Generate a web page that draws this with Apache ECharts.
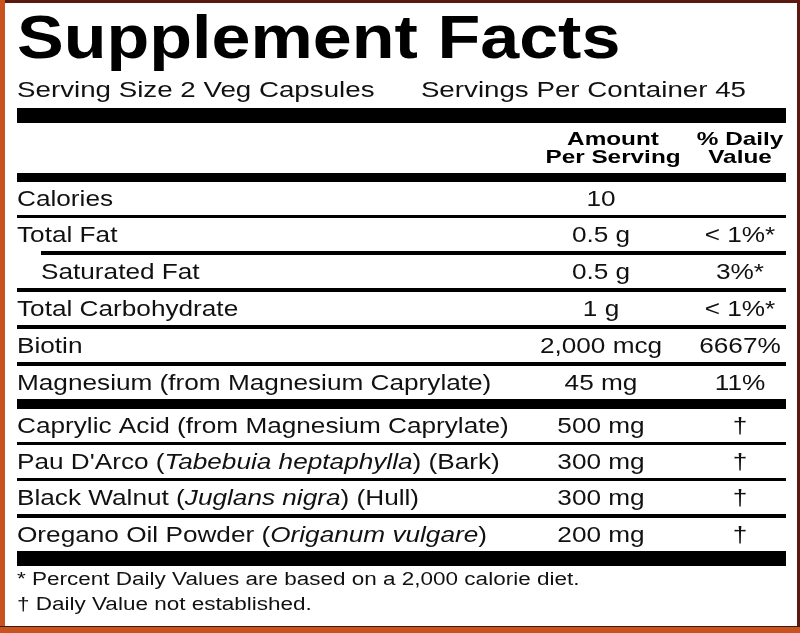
<!DOCTYPE html>
<html><head><meta charset="utf-8">
<script src="https://cdn.jsdelivr.net/npm/echarts@6/dist/echarts.min.js"></script>
<style>html,body{margin:0;padding:0;background:#fff}#c{width:800px;height:633px}</style>
</head><body><div id="c"></div>
<script>
const title = "Supplement Facts";
const servingSize = "Serving Size 2 Veg Capsules";
const servingsPer = "Servings Per Container 45";
const headerAmount = ["Amount", "Per Serving"];
const headerDV = ["% Daily", "Value"];
const names = ["Calories","Total Fat","Saturated Fat","Total Carbohydrate","Biotin",
  "Magnesium (from Magnesium Caprylate)","Caprylic Acid (from Magnesium Caprylate)",
  "Pau D'Arco ({i|Tabebuia heptaphylla}) (Bark)","Black Walnut ({i|Juglans nigra}) (Hull)",
  "Oregano Oil Powder ({i|Origanum vulgare})"];
const amounts = ["10","0.5 g","0.5 g","1 g","2,000 mcg","45 mg","500 mg","300 mg","300 mg","200 mg"];
const dvs = ["","< 1%*","3%*","< 1%*","6667%","11%","†","†","†","†"];
const indented = [false,false,true,false,false,false,false,false,false,false];
const footnotes = ["* Percent Daily Values are based on a 2,000 calorie diet.","† Daily Value not established."];

// layout
const L = 17, R = 786, F = "'Liberation Sans', Arial, sans-serif";
const sepThick = [3,4,4,4,4,10,3,3,4,15];
const sepIndent = [0,24,0,0,0,0,0,0,0,0];
const rowH = 33;
const g = [];
const rect = (x,y,w,h,fill)=>g.push({type:'rect',shape:{x,y,width:w,height:h},style:{fill}});
const txt = (x,y,text,opt,sx)=>g.push({type:'text',x,y,scaleX:sx||1.19,style:Object.assign({text,fill:'#111',font:'22px '+F,textVerticalAlign:'middle',
  rich:{i:{fontStyle:'italic',fontSize:22,fontFamily:F,fill:'#111'}}},opt||{})});
// frame
rect(0,0,800,633,'#5a1a10');
rect(5,3,792,623,'#fff');
rect(0,0,5,633,'#c8531f');
rect(0,626,800,7,'#c8531f');
rect(0,626,800,1,'#3a1a10');
// title
txt(L,41,title,{font:'900 62px '+F,fill:'#000',textVerticalAlign:'middle'},1.13);
txt(L,91,servingSize,null,1.26);
txt(R-40,91,servingsPer,{textAlign:'right'},1.26);
rect(L,108,R-L,15,'#000');
const hf = {textAlign:'center',font:'bold 19px '+F,fill:'#000'};
txt(613,140,headerAmount[0],hf,1.28);
txt(613,158,headerAmount[1],hf,1.28);
txt(740,140,headerDV[0],hf,1.28);
txt(740,158,headerDV[1],hf,1.28);
rect(L,173,R-L,9,'#000');
let y = 182;
names.forEach((n,i)=>{
  const cy = y + rowH/2 + 1;
  txt(L + (indented[i]?24:0), cy, n);
  txt(601, cy, amounts[i], {textAlign:'center'});
  if (dvs[i]) txt(740, cy, dvs[i], {textAlign:'center'});
  y += rowH;
  rect(L+sepIndent[i], y, R-L-sepIndent[i], sepThick[i], '#000');
  y += sepThick[i];
});
txt(L,580,footnotes[0],{font:'18px '+F},1.25);
txt(L,605,footnotes[1],{font:'18px '+F},1.25);

const chart = echarts.init(document.getElementById('c'));
chart.setOption({animation:false,graphic:{elements:g}});
</script></body></html>
